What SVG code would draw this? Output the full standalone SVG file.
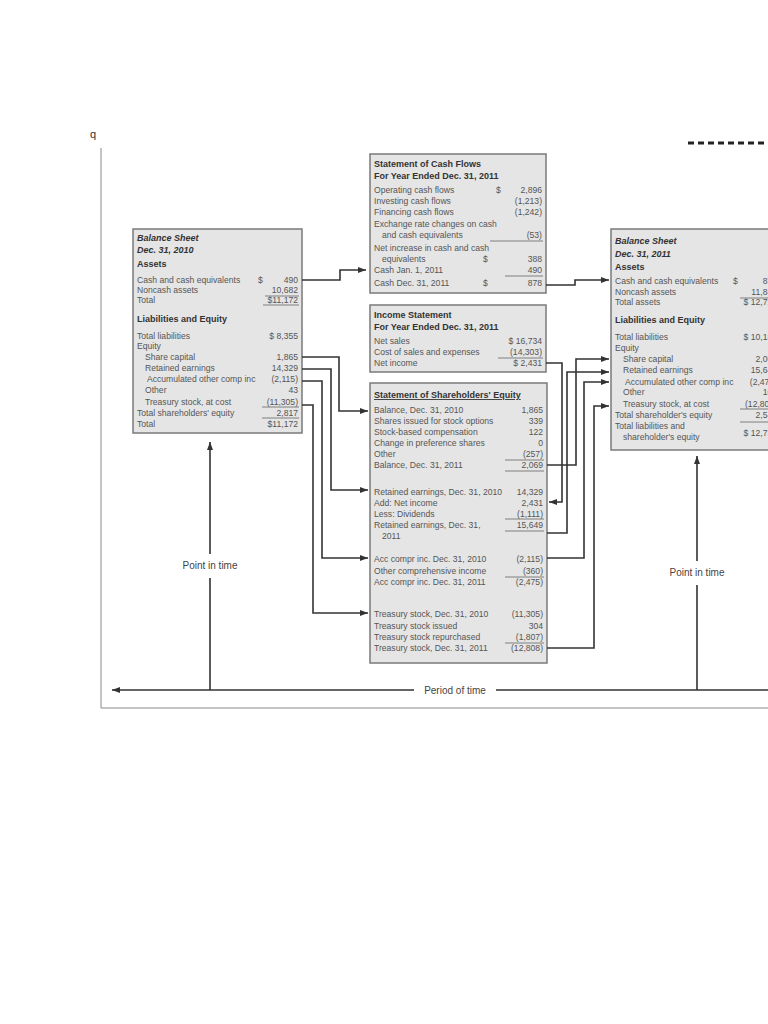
<svg xmlns="http://www.w3.org/2000/svg" width="768" height="1024" viewBox="0 0 768 1024">
<style>
.box{fill:#e5e5e5;stroke:#7a7a7a;stroke-width:1.5}
text{font-family:"Liberation Sans",Arial,sans-serif;font-size:8.6px;fill:#555}
.h{font-weight:bold;font-size:9px;fill:#333}
.hi{font-weight:bold;font-style:italic;font-size:9px;fill:#333}
.r{text-anchor:end}
.c{stroke:#333;stroke-width:1.6;fill:none}
.u{stroke:#666;stroke-width:0.8}
.big{font-size:10px;fill:#444}
</style>
<defs><marker id="a" markerWidth="8" markerHeight="6" refX="8" refY="3" orient="auto" markerUnits="userSpaceOnUse"><path d="M0,0L8,3L0,6z" fill="#333"/></marker></defs>
<rect width="768" height="1024" fill="#fff"/>
<g id="frame">
<text x="90" y="138" style="font-size:11px;fill:#333">q</text>
<line x1="101" y1="148" x2="101" y2="708" stroke="#888"/>
<line x1="101" y1="708" x2="768" y2="708" stroke="#888"/>
<line x1="688" y1="143" x2="768" y2="143" stroke="#222" stroke-width="3" stroke-dasharray="6,4"/>
</g>
<g id="bs2010">
<rect class="box" x="133" y="229" width="169" height="204"/>
<text class="hi" x="137" y="241">Balance Sheet</text>
<text class="hi" x="137" y="253">Dec. 31, 2010</text>
<text class="h" x="137" y="267">Assets</text>
<text x="137" y="283">Cash and cash equivalents</text><text x="258" y="283">$</text><text class="r" x="298" y="283">490</text>
<text x="137" y="293">Noncash assets</text><text class="r" x="298" y="293">10,682</text>
<text x="137" y="303">Total</text><text class="r" x="298" y="303">$11,172</text>
<line class="u" x1="265" y1="296" x2="299" y2="296"/><line class="u" x1="263" y1="305" x2="299" y2="305"/>
<text class="h" x="137" y="322">Liabilities and Equity</text>
<text x="137" y="339">Total liabilities</text><text class="r" x="298" y="339">$ 8,355</text>
<text x="137" y="349">Equity</text>
<text x="145" y="360">Share capital</text><text class="r" x="298" y="360">1,865</text>
<text x="145" y="371">Retained earnings</text><text class="r" x="298" y="371">14,329</text>
<text x="147" y="382">Accumulated other comp inc</text><text class="r" x="298" y="382">(2,115)</text>
<text x="145" y="393">Other</text><text class="r" x="298" y="393">43</text>
<text x="145" y="405">Treasury stock, at cost</text><text class="r" x="298" y="405">(11,305)</text>
<line class="u" x1="262" y1="407" x2="299" y2="407"/>
<text x="137" y="416">Total shareholders' equity</text><text class="r" x="298" y="416">2,817</text>
<line class="u" x1="262" y1="418" x2="299" y2="418"/>
<text x="137" y="427">Total</text><text class="r" x="298" y="427">$11,172</text>
</g>
<g id="cashflows">
<rect class="box" x="370" y="154" width="176" height="139"/>
<text class="h" x="374" y="167">Statement of Cash Flows</text>
<text class="h" x="374" y="179">For Year Ended Dec. 31, 2011</text>
<text x="374" y="193">Operating cash flows</text><text x="496" y="193">$</text><text class="r" x="542" y="193">2,896</text>
<text x="374" y="204">Investing cash flows</text><text class="r" x="542" y="204">(1,213)</text>
<text x="374" y="215">Financing cash flows</text><text class="r" x="542" y="215">(1,242)</text>
<text x="374" y="227">Exchange rate changes on cash</text>
<text x="382" y="238">and cash equivalents</text><text class="r" x="542" y="238">(53)</text>
<line class="u" x1="490" y1="241" x2="543" y2="241"/>
<text x="374" y="251">Net increase in cash and cash</text>
<text x="382" y="262">equivalents</text><text x="483" y="262">$</text><text class="r" x="542" y="262">388</text>
<text x="374" y="273">Cash Jan. 1, 2011</text><text class="r" x="542" y="273">490</text>
<line class="u" x1="505" y1="276" x2="543" y2="276"/>
<text x="374" y="286">Cash Dec. 31, 2011</text><text x="483" y="286">$</text><text class="r" x="542" y="286">878</text>
</g>
<g id="income">
<rect class="box" x="370" y="305" width="176" height="67"/>
<text class="h" x="374" y="318">Income Statement</text>
<text class="h" x="374" y="330">For Year Ended Dec. 31, 2011</text>
<text x="374" y="344">Net sales</text><text class="r" x="542" y="344">$ 16,734</text>
<text x="374" y="355">Cost of sales and expenses</text><text class="r" x="542" y="355">(14,303)</text>
<line class="u" x1="498" y1="358" x2="543" y2="358"/>
<text x="374" y="366">Net income</text><text class="r" x="542" y="366">$ 2,431</text>
</g>
<g id="equity">
<rect class="box" x="370" y="383" width="177" height="280"/>
<text class="h" x="374" y="398" text-decoration="underline">Statement of Shareholders' Equity</text>
<text x="374" y="413">Balance, Dec. 31, 2010</text><text class="r" x="543" y="413">1,865</text>
<text x="374" y="424">Shares issued for stock options</text><text class="r" x="543" y="424">339</text>
<text x="374" y="435">Stock-based compensation</text><text class="r" x="543" y="435">122</text>
<text x="374" y="446">Change in preference shares</text><text class="r" x="543" y="446">0</text>
<text x="374" y="457">Other</text><text class="r" x="543" y="457">(257)</text>
<line class="u" x1="505" y1="460" x2="544" y2="460"/>
<text x="374" y="468">Balance, Dec. 31, 2011</text><text class="r" x="543" y="468">2,069</text>
<line class="u" x1="505" y1="471" x2="544" y2="471"/>
<text x="374" y="495">Retained earnings, Dec. 31, 2010</text><text class="r" x="543" y="495">14,329</text>
<text x="374" y="506">Add: Net income</text><text class="r" x="543" y="506">2,431</text>
<text x="374" y="517">Less: Dividends</text><text class="r" x="543" y="517">(1,111)</text>
<line class="u" x1="505" y1="519" x2="544" y2="519"/>
<text x="374" y="528">Retained earnings, Dec. 31,</text><text class="r" x="543" y="528">15,649</text>
<line class="u" x1="505" y1="531" x2="544" y2="531"/>
<text x="382" y="539">2011</text>
<text x="374" y="562">Acc compr inc. Dec. 31, 2010</text><text class="r" x="543" y="562">(2,115)</text>
<text x="374" y="574">Other comprehensive income</text><text class="r" x="543" y="574">(360)</text>
<line class="u" x1="505" y1="577" x2="544" y2="577"/>
<text x="374" y="585">Acc compr inc. Dec. 31, 2011</text><text class="r" x="543" y="585">(2,475)</text>
<text x="374" y="617">Treasury stock, Dec. 31, 2010</text><text class="r" x="543" y="617">(11,305)</text>
<text x="374" y="629">Treasury stock issued</text><text class="r" x="543" y="629">304</text>
<text x="374" y="640">Treasury stock repurchased</text><text class="r" x="543" y="640">(1,807)</text>
<line class="u" x1="505" y1="643" x2="544" y2="643"/>
<text x="374" y="651">Treasury stock, Dec. 31, 2011</text><text class="r" x="543" y="651">(12,808)</text>
</g>
<g id="bs2011">
<rect class="box" x="611" y="229" width="170" height="221"/>
<text class="hi" x="615" y="244">Balance Sheet</text>
<text class="hi" x="615" y="257">Dec. 31, 2011</text>
<text class="h" x="615" y="270">Assets</text>
<text x="615" y="284">Cash and cash equivalents</text><text x="733" y="284">$</text><text class="r" x="777" y="284">878</text>
<text x="615" y="295">Noncash assets</text><text class="r" x="777" y="295">11,843</text>
<line class="u" x1="740" y1="298" x2="768" y2="298"/>
<text x="615" y="305">Total assets</text><text class="r" x="777" y="305">$ 12,721</text>
<text class="h" x="615" y="323">Liabilities and Equity</text>
<text x="615" y="340">Total liabilities</text><text class="r" x="777" y="340">$ 10,180</text>
<text x="615" y="351">Equity</text>
<text x="623" y="362">Share capital</text><text class="r" x="777" y="362">2,069</text>
<text x="623" y="373">Retained earnings</text><text class="r" x="777" y="373">15,649</text>
<text x="625" y="385">Accumulated other comp inc</text><text class="r" x="777" y="385">(2,475)</text>
<text x="623" y="395">Other</text><text class="r" x="777" y="395">108</text>
<text x="623" y="407">Treasury stock, at cost</text><text class="r" x="777" y="407">(12,808)</text>
<line class="u" x1="740" y1="409" x2="768" y2="409"/>
<text x="615" y="418">Total shareholder's equity</text><text class="r" x="777" y="418">2,541</text>
<line class="u" x1="740" y1="422" x2="768" y2="422"/>
<text x="615" y="429">Total liabilities and</text><text class="r" x="777" y="436">$ 12,721</text>
<text x="623" y="440">shareholder's equity</text>
</g>
<g id="connectors">
<polyline class="c" points="302,280 340,280 340,270 366,270" marker-end="url(#a)"/>
<polyline class="c" points="302,357 339,357 339,411 368,411" marker-end="url(#a)"/>
<polyline class="c" points="302,369 331,369 331,490 368,490" marker-end="url(#a)"/>
<polyline class="c" points="302,381 322,381 322,558 368,558" marker-end="url(#a)"/>
<polyline class="c" points="302,405 313,405 313,613 368,613" marker-end="url(#a)"/>
<polyline class="c" points="546,285 575,285 575,280 609,280" marker-end="url(#a)"/>
<polyline class="c" points="546,363 562,363 562,502 549,502" marker-end="url(#a)"/>
<polyline class="c" points="547,465 576,465 576,359 609,359" marker-end="url(#a)"/>
<polyline class="c" points="547,533 567,533 567,372 609,372" marker-end="url(#a)"/>
<polyline class="c" points="547,558 584,558 584,382 609,382" marker-end="url(#a)"/>
<polyline class="c" points="547,648 594,648 594,406 609,406" marker-end="url(#a)"/>
</g>
<g id="timeline">
<line class="c" x1="768" y1="690" x2="496" y2="690"/>
<line class="c" x1="414" y1="690" x2="112" y2="690" marker-end="url(#a)"/>
<text class="big" x="455" y="694" text-anchor="middle">Period of time</text>
<line class="c" x1="210" y1="690" x2="210" y2="578"/>
<line class="c" x1="210" y1="554" x2="210" y2="442" marker-end="url(#a)"/>
<text class="big" x="210" y="569" text-anchor="middle">Point in time</text>
<line class="c" x1="697" y1="690" x2="697" y2="585"/>
<line class="c" x1="697" y1="561" x2="697" y2="456" marker-end="url(#a)"/>
<text class="big" x="697" y="576" text-anchor="middle">Point in time</text>
</g>
</svg>
